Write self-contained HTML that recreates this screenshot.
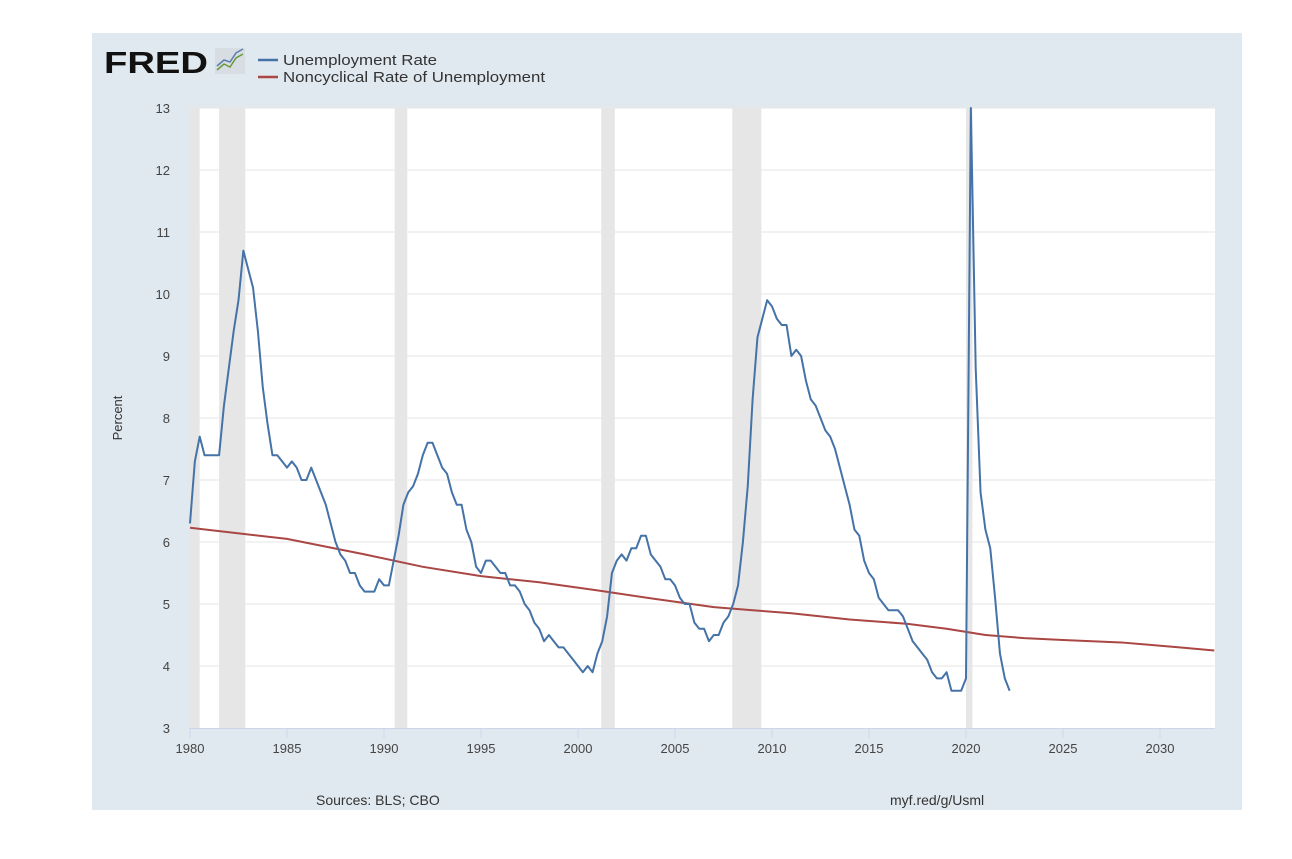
<!DOCTYPE html>
<html><head><meta charset="utf-8"><style>
body{margin:0;background:#fff;width:1292px;height:854px;overflow:hidden;font-family:"Liberation Sans",sans-serif}
</style></head><body>
<svg width="1292" height="854">
<rect x="92" y="33" width="1150" height="777" fill="#e1e9f0"/>
<g>
<text x="104" y="73" font-size="31" font-weight="bold" fill="#111" textLength="104" lengthAdjust="spacingAndGlyphs">FRED</text>
<rect x="215" y="48" width="30" height="26" fill="#d7dde2"/>
<polyline points="217,70 224,64 230,67 236,58 243,54" fill="none" stroke="#6a9a3a" stroke-width="1.5"/>
<polyline points="217,66 224,60 230,62 236,53 243,49" fill="none" stroke="#5a7fb0" stroke-width="1.5"/>
</g>
<g>
<line x1="258" y1="60" x2="278" y2="60" stroke="#4572a7" stroke-width="2.5"/>
<text x="283" y="65" font-size="15" fill="#333" textLength="154" lengthAdjust="spacingAndGlyphs">Unemployment Rate</text>
<line x1="258" y1="77" x2="278" y2="77" stroke="#aa4643" stroke-width="2.5"/>
<text x="283" y="82" font-size="15" fill="#333" textLength="262" lengthAdjust="spacingAndGlyphs">Noncyclical Rate of Unemployment</text>
</g>
<rect x="190" y="108" width="1025" height="620" fill="#fff"/>
<g id="rec"></g><g id="grid"></g><g id="series"></g><g id="axes"></g>
<text transform="translate(122,418) rotate(-90)" font-size="13" fill="#333" text-anchor="middle">Percent</text>
<text x="316" y="805" font-size="14" fill="#333">Sources: BLS; CBO</text>
<text x="890" y="805" font-size="14" fill="#333">myf.red/g/Usml</text>
</svg>
<script>
const unrate = [6.3,7.3,7.7,7.4, 7.4,7.4,7.4,8.2, 8.8,9.4,9.9,10.7, 10.4,10.1,9.4,8.5, 7.9,7.4,7.4,7.3, 7.2,7.3,7.2,7.0, 7.0,7.2,7.0,6.8, 6.6,6.3,6.0,5.8, 5.7,5.5,5.5,5.3, 5.2,5.2,5.2,5.4, 5.3,5.3,5.7,6.1, 6.6,6.8,6.9,7.1, 7.4,7.6,7.6,7.4, 7.2,7.1,6.8,6.6, 6.6,6.2,6.0,5.6, 5.5,5.7,5.7,5.6, 5.5,5.5,5.3,5.3, 5.2,5.0,4.9,4.7, 4.6,4.4,4.5,4.4, 4.3,4.3,4.2,4.1, 4.0,3.9,4.0,3.9, 4.2,4.4,4.8,5.5, 5.7,5.8,5.7,5.9, 5.9,6.1,6.1,5.8, 5.7,5.6,5.4,5.4, 5.3,5.1,5.0,5.0, 4.7,4.6,4.6,4.4, 4.5,4.5,4.7,4.8, 5.0,5.3,6.0,6.9, 8.3,9.3,9.6,9.9, 9.8,9.6,9.5,9.5, 9.0,9.1,9.0,8.6, 8.3,8.2,8.0,7.8, 7.7,7.5,7.2,6.9, 6.6,6.2,6.1,5.7, 5.5,5.4,5.1,5.0, 4.9,4.9,4.9,4.8, 4.6,4.4,4.3,4.2, 4.1,3.9,3.8,3.8, 3.9,3.6,3.6,3.6, 3.8,13.0,8.8,6.8, 6.2,5.9,5.1,4.2, 3.8,3.6];
const unrateStart = 1980;
const nrouYears = [1980,1985,1989,1992,1995,1998,2001,2004,2007,2009,2011,2014,2017,2019,2021,2023,2025,2028,2031,2032.8];
const nrouVals = [6.23,6.05,5.8,5.6,5.45,5.35,5.22,5.08,4.95,4.9,4.85,4.75,4.68,4.6,4.5,4.45,4.42,4.38,4.3,4.25];
const recStart = [1980.0,1981.5,1990.55,2001.2,2007.95,2020.0];
const recEnd = [1980.5,1982.85,1991.2,2001.9,2009.45,2020.33];
const yTicks = [3,4,5,6,7,8,9,10,11,12,13];
const xTicks = [1980,1985,1990,1995,2000,2005,2010,2015,2020,2025,2030];
const NS="http://www.w3.org/2000/svg";
const X=t=>190+(t-1980)*19.4, Y=v=>728-(v-3)*62;
function mk(tag,attrs,parent){const e=document.createElementNS(NS,tag);for(const k in attrs)e.setAttribute(k,attrs[k]);document.getElementById(parent).appendChild(e);return e;}
recStart.forEach((s,i)=>{const e=mk('rect',{x:X(s),y:108,width:X(recEnd[i])-X(s),height:620,fill:'#e6e6e6'},'rec');

});
yTicks.forEach(v=>{if(v>3){const l=mk('line',{x1:190,x2:1215,y1:Y(v),y2:Y(v),stroke:'#e6e6e6'},'grid');

}
const t=mk('text',{x:170,y:Y(v)+5,'font-size':13,fill:'#444','text-anchor':'end'},'axes');t.textContent=v;

});
mk('line',{x1:190,x2:1215,y1:728.5,y2:728.5,stroke:'#ccd6eb'},'axes');
xTicks.forEach(yr=>{const l=mk('line',{x1:X(yr),x2:X(yr),y1:728,y2:738,stroke:'#ccd6eb'},'axes');


const t=mk('text',{x:X(yr),y:753,'font-size':13,fill:'#444','text-anchor':'middle'},'axes');t.textContent=yr;

});
const p1=mk('polyline',{points:nrouYears.map((y,i)=>X(y)+','+Y(nrouVals[i])).join(' '),fill:'none',stroke:'#aa4643','stroke-width':2},'series');


const p2=mk('polyline',{points:unrate.map((v,i)=>X(unrateStart+i*0.25)+','+Y(v)).join(' '),fill:'none',stroke:'#4572a7','stroke-width':2,'stroke-linejoin':'round'},'series');


</script>
</body></html>
